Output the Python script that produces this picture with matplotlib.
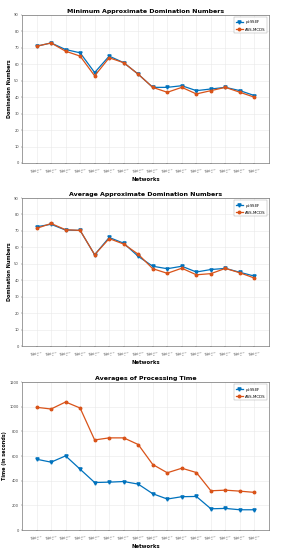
import matplotlib.pyplot as plt
import numpy as np

# network labels (super/subscript read approximately)
nets = [r'Net$_{6}^{210}$', r'Net$_{6}^{220}$', r'Net$_{6}^{230}$', r'Net$_{6}^{240}$',
        r'Net$_{7}^{200}$', r'Net$_{7}^{210}$', r'Net$_{7}^{220}$', r'Net$_{7}^{230}$',
        r'Net$_{8}^{200}$', r'Net$_{8}^{210}$', r'Net$_{8}^{220}$', r'Net$_{8}^{230}$',
        r'Net$_{9}^{130}$', r'Net$_{9}^{140}$', r'Net$_{9}^{150}$', r'Net$_{9}^{160}$']

# minimum approximate domination numbers
min_ssef = [71, 73, 69, 67, 55, 65, 61, 54, 46, 46, 47, 44, 45, 46, 44, 41]
min_ass = [71, 73, 68, 65, 53, 64, 61, 54, 46, 43, 46, 42, 44, 46, 43, 40]

# average approximate domination numbers
avg_ssef = [72.5, 74, 70.5, 70.3, 55.5, 66, 62.5, 54.5, 48.5, 47, 48.5, 45, 46.5, 47.2, 44.8, 42.5]
avg_ass = [71.5, 74.5, 70.7, 70.3, 55.5, 65.3, 62, 55.8, 47, 44.2, 47.3, 43.3, 44, 47.2, 44.5, 41.3]

# processing time (seconds)
time_ssef = [574, 550, 601, 493, 385, 388, 393, 372, 294, 251, 270, 272, 172, 175, 164, 164]
time_ass = [995, 981, 1038, 989, 730, 747, 747, 693, 531, 464, 501, 466, 318, 323, 315, 305]

blue = '#0072BD'
orange = '#D95319'

plt.rcParams['font.family'] = 'DejaVu Sans'

fig = plt.figure(figsize=(2.81, 5.5), dpi=100)
W, H = 281, 550

panels = [
    ('Minimum Approximate Domination Numbers', min_ssef, min_ass, 'Domination Numbers', 90, 10, 15),
    ('Average Approximate Domination Numbers', avg_ssef, avg_ass, 'Domination Numbers', 90, 10, 198),
    ('Averages of Processing Time', time_ssef, time_ass, 'Time (in seconds)', 1200, 200, 382),
]

x = np.arange(1, len(nets) + 1)
for title, s1, s2, ylab, ymax, ystep, top in panels:
    ax = fig.add_axes([22 / W, 1 - (top + 148) / H, 247 / W, 148 / H])
    ax.plot(x, s1, color=blue, marker='v', markersize=2.3, linewidth=0.9, label=r'$p_k$SSEF')
    ax.plot(x, s2, color=orange, marker='o', markersize=1.8, linewidth=0.9, label='ASS-MCDS')
    ax.set_xlim(0, len(nets) + 1)
    ax.set_ylim(0, ymax)
    ax.set_yticks(np.arange(0, ymax + 1, ystep))
    ax.set_xticks(x)
    ax.set_xticklabels(nets, fontsize=2.5, rotation=10)
    ax.tick_params(axis='y', labelsize=2.6)
    ax.tick_params(length=1.0, width=0.3, pad=1.2, color='#555555', labelcolor='#444444')
    ax.grid(True, color='#e8e8e8', linewidth=0.4)
    ax.set_axisbelow(True)
    for sp in ax.spines.values():
        sp.set_linewidth(0.4)
        sp.set_color('#555555')
    ax.set_title(title, fontsize=4.5, fontweight='bold', pad=1.5)
    ax.set_xlabel('Networks', fontsize=3.8, fontweight='bold', labelpad=0.5)
    ax.set_ylabel(ylab, fontsize=3.5, fontweight='bold', labelpad=1.5)
    leg = ax.legend(loc='upper right', fontsize=2.8, frameon=True, fancybox=False,
                    handlelength=2.0, borderpad=0.4, labelspacing=0.3, handletextpad=0.4)
    leg.get_frame().set_linewidth(0.3)
    leg.get_frame().set_edgecolor('#888888')

fig.savefig('out.png', dpi=100, facecolor='white')
